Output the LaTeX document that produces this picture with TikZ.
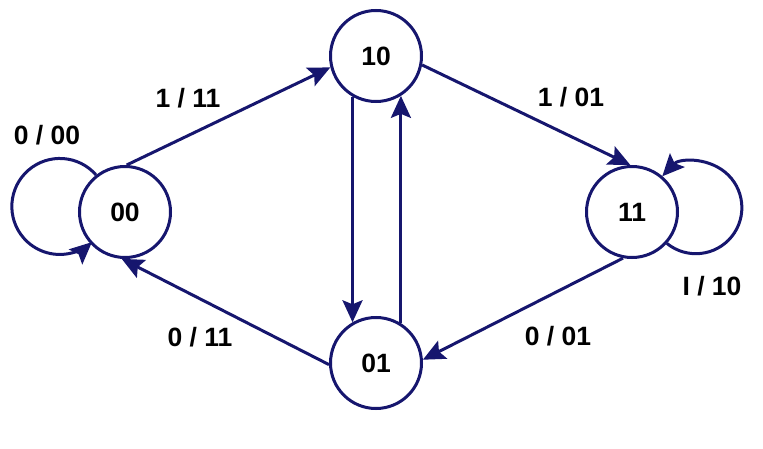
\documentclass[tikz,border=0pt]{standalone}
\usepackage{fontspec}
\setmainfont{Liberation Sans}
\usetikzlibrary{arrows.meta}
\definecolor{navy}{RGB}{22,22,110}
\begin{document}
\begin{tikzpicture}[x=1pt,y=1pt,
  state/.style={circle,draw=navy,line width=3pt,minimum size=91pt,inner sep=0pt,fill=white,
    font=\fontsize{26.5}{30}\selectfont\bfseries},
  lbl/.style={font=\fontsize{26.5}{30}\selectfont\bfseries,inner sep=0pt},
  edge/.style={draw=navy,line width=3pt,-{Stealth[length=22pt,width=20pt,inset=4pt]}}]
\useasboundingbox (0,0) rectangle (763,448);
\node[state] (n00) at (125,236) {00};
\node[state] (n10) at (376,392) {10};
\node[state] (n11) at (632,236) {11};
\node[state] (n01) at (376,85) {01};
\draw[edge] (n00.128) arc[start angle=41,end angle=312,radius=48];
\draw[edge] (n11.318) arc[start angle=231,end angle=497,radius=46];
\draw[edge] (n00.88) -- (n10.194);
\draw[edge] (n10.349) -- (n11.92);
\draw[edge] (n10.240) -- (n01.120);
\draw[edge] (n01.58) -- (n10.302);
\draw[edge] (n11.259) -- (n01.4);
\draw[edge] (n01.182) -- (n00.266);
\node[lbl] (l1) at (47,313) {0 / 00};
\node[lbl] (l2) at (188,350) {1 / 11};
\node[lbl] (l3) at (571,351) {1 / 01};
\node[lbl] (l4) at (200,111) {0 / 11};
\node[lbl] (l5) at (558,112) {0 / 01};
\node[lbl] (l6) at (712,162) {I / 10};
\end{tikzpicture}
\end{document}
